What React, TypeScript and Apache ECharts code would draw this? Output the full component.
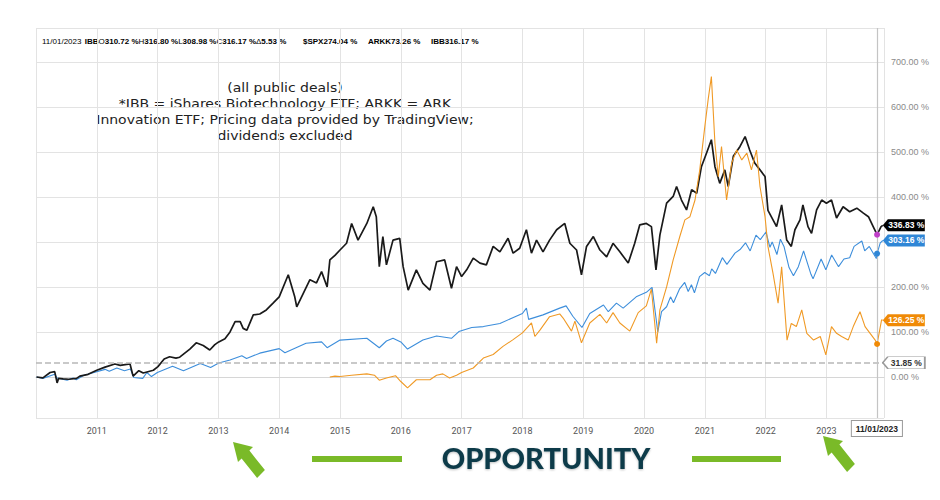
import React, { useEffect, useRef } from "react";
import * as echarts from "echarts";

// ---------- data (percent change since start) ----------
const ibbData: [string, number][] = [
  ["2010-01-04",0],["2010-02-12",-2],["2010-03-25",10],["2010-04-22",12],["2010-05-06",-13],["2010-05-15",-3],["2010-06-12",-4],["2010-07-15",-5],["2010-09-01",-3],["2010-09-21",2],["2010-11-10",6],
  ["2011-01-01",15],["2011-02-20",22],["2011-04-18",29],["2011-05-20",26],["2011-07-18",29],["2011-08-06",2],["2011-09-10",14],["2011-10-06",9],["2011-12-06",15],
  ["2012-01-03",23],["2012-02-10",40],["2012-03-12",45],["2012-04-20",42],["2012-05-12",44],["2012-07-12",62],["2012-08-20",76],["2012-10-01",70],["2012-11-10",60],["2012-12-10",72],
  ["2013-01-03",78],["2013-02-10",85],["2013-03-10",100],["2013-04-10",123],["2013-05-10",123],["2013-05-28",108],["2013-06-20",104],["2013-07-28",138],["2013-09-06",140],["2013-10-15",149],["2013-11-25",164],
  ["2014-01-01",178],["2014-02-25",227],["2014-04-03",178],["2014-04-15",156],["2014-05-24",186],["2014-07-03",216],["2014-08-12",209],["2014-09-12",234],["2014-10-15",200],["2014-11-01",260],["2014-12-01",270],
  ["2015-01-01",282],["2015-02-10",297],["2015-03-10",341],["2015-04-18",304],["2015-06-10",341],["2015-07-18",378],["2015-08-06",356],["2015-08-24",245],["2015-09-15",312],["2015-10-06",249],["2015-11-15",304],["2015-12-25",308],
  ["2016-01-15",245],["2016-02-15",193],["2016-04-03",238],["2016-05-12",208],["2016-06-24",193],["2016-08-03",256],["2016-09-21",260],["2016-11-01",197],["2016-12-01",245],
  ["2017-01-01",223],["2017-02-01",238],["2017-03-10",264],["2017-04-20",253],["2017-05-28",249],["2017-07-08",290],["2017-08-18",278],["2017-10-06",308],["2017-11-06",275],["2017-12-15",286],
  ["2018-01-25",327],["2018-02-25",275],["2018-03-25",304],["2018-05-03",278],["2018-06-12",304],["2018-07-24",327],["2018-09-12",341],["2018-10-12",297],["2018-11-22",282],["2018-12-21",227],
  ["2019-01-21",290],["2019-03-01",312],["2019-04-10",282],["2019-05-20",267],["2019-06-28",297],["2019-08-08",278],["2019-09-28",253],["2019-11-06",297],["2019-12-06",338],
  ["2020-01-15",341],["2020-02-15",334],["2020-03-12",238],["2020-04-05",315],["2020-05-15",386],["2020-06-24",401],["2020-07-14",423],["2020-08-13",393],["2020-09-13",371],["2020-10-13",416],["2020-11-13",408],["2020-12-11",467],
  ["2021-01-11",497],["2021-02-10",527],["2021-03-01",467],["2021-03-30",430],["2021-04-30",460],["2021-05-20",423],["2021-06-20",490],["2021-07-30",512],["2021-08-30",534],["2021-09-27",504],["2021-10-27",475],["2021-11-28",460],["2021-12-28",445],
  ["2022-01-15",370],["2022-02-15",349],["2022-03-06",334],["2022-04-06",382],["2022-05-06",304],["2022-06-03",290],["2022-06-25",327],["2022-07-25",349],["2022-08-12",382],["2022-09-12",334],["2022-10-03",319],["2022-11-03",371],["2022-12-03",393],
  ["2023-01-01",386],["2023-02-01",393],["2023-03-01",353],["2023-04-10",378],["2023-05-19",367],["2023-07-01",375],["2023-08-10",364],["2023-09-10",356],["2023-10-08",334],["2023-11-01",316.17],["2023-11-25",334],["2023-12-05",336.83],
];

const spxData: [string, number][] = [
  ["2010-01-04",0],["2010-02-12",-3],["2010-04-22",6],["2010-05-06",-2],["2010-07-05",-7],["2010-08-10",-2],["2010-08-30",-6],["2010-10-15",4],["2010-12-15",10],
  ["2011-02-20",17],["2011-03-15",13],["2011-04-30",20],["2011-06-15",14],["2011-07-20",18],["2011-08-10",-1],["2011-10-03",-3],["2011-10-28",10],["2011-11-25",1],["2011-12-30",10],
  ["2012-03-30",24],["2012-06-04",14],["2012-09-14",30],["2012-11-15",21],["2013-01-03",31],["2013-03-10",38],["2013-05-20",47],["2013-06-18",41],["2013-09-06",53],
  ["2014-01-01",63],["2014-02-05",54],["2014-06-10",75],["2014-09-12",78],["2014-10-15",65],["2015-01-01",82],["2015-06-10",86],["2015-08-24",65],["2015-10-06",80],["2015-11-15",86],
  ["2016-01-01",78],["2016-02-11",62],["2016-05-12",82],["2016-08-03",91],["2016-11-01",86],["2016-12-15",101],["2017-03-01",110],["2017-05-10",112],["2017-08-18",119],
  ["2018-01-01",141],["2018-01-25",153],["2018-02-08",128],["2018-05-03",138],["2018-08-12",153],["2018-09-20",158],["2018-10-30",135],["2018-12-24",110],
  ["2019-02-10",141],["2019-05-01",160],["2019-05-30",145],["2019-07-18",164],["2019-08-28",153],["2019-11-15",178],
  ["2020-01-15",188],["2020-02-19",199],["2020-03-23",100],["2020-04-15",145],["2020-05-15",156],["2020-06-08",178],["2020-06-26",165],["2020-07-31",195],["2020-09-02",210],["2020-09-23",190],["2020-10-12",205],["2020-10-30",187],["2020-11-30",223],["2020-12-31",232],
  ["2021-01-29",225],["2021-02-12",240],["2021-03-04",230],["2021-04-15",265],["2021-05-12",250],["2021-06-30",275],["2021-07-30",283],["2021-09-02",298],["2021-09-30",280],["2021-11-04",315],["2021-11-30",305],
  ["2022-01-03",322],["2022-01-27",288],["2022-02-10",300],["2022-03-08",272],["2022-03-29",306],["2022-04-20",290],["2022-05-20",243],["2022-06-16",225],["2022-07-15",245],["2022-08-16",280],["2022-09-30",228],["2022-10-12",218],["2022-11-30",262],["2022-12-28",238],
  ["2023-02-02",271],["2023-03-13",245],["2023-04-15",262],["2023-05-19",265],["2023-06-15",290],["2023-07-31",302],["2023-08-18",280],["2023-09-15",290],["2023-10-27",263],["2023-11-01",274.04],["2023-11-20",298],["2023-12-05",303.16],
];

const arkkData: [string, number][] = [
  ["2014-10-31",0],["2014-12-01",2],["2015-01-01",1],["2015-03-10",4],["2015-06-10",7],["2015-07-25",4],["2015-08-24",-7],["2015-10-06",-2],["2015-11-30",3],
  ["2016-01-01",-10],["2016-02-11",-24],["2016-04-03",-6],["2016-06-24",-6],["2016-08-03",4],["2016-09-10",7],["2016-10-20",-2],["2016-12-01",4],
  ["2017-01-01",10],["2017-03-10",20],["2017-05-10",42],["2017-07-08",50],["2017-09-06",68],["2017-11-06",83],
  ["2018-01-01",98],["2018-02-25",120],["2018-03-15",90],["2018-04-15",104],["2018-06-12",134],["2018-08-12",140],["2018-09-02",131],["2018-10-22",102],["2018-11-12",124],["2018-12-21",76],
  ["2019-02-10",120],["2019-04-10",139],["2019-05-20",120],["2019-06-28",143],["2019-08-08",120],["2019-10-07",102],["2019-11-27",143],
  ["2020-01-15",158],["2020-02-15",195],["2020-03-16",75],["2020-04-05",149],["2020-05-15",200],["2020-06-24",260],["2020-08-03",312],["2020-09-03",349],["2020-10-03",356],["2020-11-03",393],["2020-12-01",460],
  ["2021-01-01",556],["2021-01-21",616],["2021-02-10",667],["2021-03-01",519],["2021-03-21",445],["2021-04-10",512],["2021-05-10",393],["2021-06-10",475],["2021-07-10",504],["2021-08-10",482],["2021-09-10",497],["2021-10-07",460],["2021-11-07",504],["2021-11-28",423],["2021-12-28",356],
  ["2022-01-15",290],["2022-02-15",230],["2022-03-15",164],["2022-04-06",245],["2022-05-08",82],["2022-06-03",119],["2022-07-03",112],["2022-08-05",149],["2022-09-05",97],["2022-10-15",82],["2022-11-25",90],["2022-12-28",49],
  ["2023-02-01",112],["2023-03-01",97],["2023-04-01",90],["2023-05-10",82],["2023-06-10",112],["2023-07-20",145],["2023-08-20",112],["2023-09-20",97],["2023-10-20",82],["2023-11-01",73.26],["2023-11-28",127],["2023-12-05",126.25],
];

const crosshairDate = "2023-11-01";
const crosshairLabel = "11/01/2023";
const crosshairValues = { ibb: 316.17, spx: 274.04, arkk: 73.26 };
const referenceLevel = 31.85;
const endTags = { ibb: "336.83 %", spx: "303.16 %", arkk: "126.25 %", ref: "31.85 %" };
const hiddenAxisLabels = [300]; // covered by the $SPX tag in the reference

const noteLines = [
  "(all public deals)",
  "*IBB = iShares Biotechnology ETF; ARKK = ARK",
  "Innovation ETF; Pricing data provided by TradingView;",
  "dividends excluded",
];

// ---------- helpers ----------
const toYear = (s: string) => {
  const [y, m, d] = s.split("-").map(Number);
  return y + (m - 1 + ((d || 15) - 1) / 30.5) / 12;
};
const toPoints = (arr: [string, number][]) => arr.map(([d, v]) => [toYear(d), v]);

const TAG_PATH = "path://M0,5.5 L5,0 L42,0 L42,11 L5,11 Z";
const GREEN = "#7aba28";

function tag(point: [string, number], text: string, fill: string, textColor = "#fff", border?: string) {
  return {
    coord: [toYear(point[0]), point[1]],
    symbol: TAG_PATH,
    symbolSize: [42, 12],
    symbolOffset: [21, 0],
    itemStyle: border ? { color: fill, borderColor: border, borderWidth: 1 } : { color: fill },
    label: {
      show: true,
      formatter: text,
      color: textColor,
      fontSize: 8.5,
      fontWeight: "bold",
      fontFamily: "Liberation Sans, Arial, sans-serif",
      offset: [2.5, 0],
    },
  };
}
function dot(value: number, color: string) {
  return {
    coord: [toYear(crosshairDate), value],
    symbol: "circle",
    symbolSize: 6,
    itemStyle: { color },
    label: { show: false },
  };
}

function arrow(x: number, y: number) {
  return {
    type: "group",
    x,
    y,
    silent: true,
    children: [
      {
        type: "polygon",
        shape: {
          points: [
            [0, 0], [20, 5], [16.4, 8.6], [31.9, 28.1], [24.1, 35.9], [8.6, 16.4], [5, 20],
          ],
        },
        style: { fill: GREEN },
      },
    ],
  };
}

export default function App() {
  const ref = useRef<HTMLDivElement>(null);

  useEffect(() => {
    document.body.style.margin = "0";
    if (!ref.current) return;
    const chart = echarts.init(ref.current, undefined, { renderer: "svg" });

    const lastIbb = ibbData[ibbData.length - 1];
    const lastSpx = spxData[spxData.length - 1];
    const lastArkk = arkkData[arkkData.length - 1];
    const xMin = 2010;
    const xMax = 2023.947;

    const headerFont = "Liberation Sans, Arial, sans-serif";
    const rich = {
      d: { fontSize: 8, color: "#a0a0a0", fontFamily: headerFont },
      k: { fontSize: 8, color: "#222", fontWeight: "bold", fontFamily: headerFont },
      g: { fontSize: 8, color: "#a0a0a0", fontFamily: headerFont },
      v: { fontSize: 8, color: "#222", fontWeight: "bold", fontFamily: headerFont },
      b: { fontSize: 8, color: "#2f86d6", fontWeight: "bold", fontFamily: headerFont },
      o: { fontSize: 8, color: "#f0a020", fontWeight: "bold", fontFamily: headerFont },
      m: { fontSize: 8, color: "#c040c8", fontWeight: "bold", fontFamily: headerFont },
    };

    const noteGraphics = noteLines.map((line, i) => ({
      type: "text",
      x: 285,
      y: 88 + i * 16,
      scaleX: 1.12,
      silent: true,
      style: {
        text: line,
        align: "center",
        verticalAlign: "middle",
        fontFamily: "DejaVu Sans, sans-serif",
        fontSize: 12.5,
        fill: "#222",
      },
    }));

    chart.setOption({
      animation: false,
      backgroundColor: "#fff",
      grid: { left: 36, right: 56, top: 28, bottom: 82, containLabel: false },
      xAxis: {
        type: "value",
        min: xMin,
        max: xMax,
        splitNumber: 14,
        minInterval: 1,
        maxInterval: 1,
        axisLine: { show: true, lineStyle: { color: "#d6d6d6" } },
        axisTick: { show: false },
        splitLine: { show: true, lineStyle: { color: "#e3e3e3", width: 1 } },
        axisLabel: {
          showMinLabel: false,
          showMaxLabel: false,
          margin: 8,
          fontSize: 9,
          color: "#555",
          fontFamily: "Roboto, sans-serif",
          formatter: (v: number) => String(Math.round(v)),
        },
      },
      yAxis: {
        type: "value",
        position: "right",
        min: -91,
        max: 775,
        splitNumber: 9,
        minInterval: 100,
        maxInterval: 100,
        axisLine: { show: false },
        axisTick: { show: false },
        splitLine: { show: true, lineStyle: { color: "#e3e3e3", width: 1 } },
        axisLabel: {
          showMinLabel: false,
          showMaxLabel: false,
          margin: 7,
          fontSize: 9,
          color: "#8a8a8a",
          fontFamily: "Liberation Sans, Arial, sans-serif",
          formatter: (v: number) =>
            v < 0 || hiddenAxisLabels.includes(Math.round(v)) ? "" : v.toFixed(2) + " %",
        },
      },
      series: [
        {
          name: "IBB",
          type: "line",
          data: toPoints(ibbData),
          showSymbol: false,
          symbol: "none",
          lineStyle: { color: "#1a1a1a", width: 1.7 },
          z: 3,
          markLine: {
            silent: true,
            symbol: "none",
            animation: false,
            data: [
              {
                yAxis: referenceLevel,
                lineStyle: { color: "#b8b8b8", width: 1.5, type: "dashed" },
                label: { show: false },
              },
              {
                xAxis: toYear(crosshairDate),
                lineStyle: { color: "#c4c4c4", width: 1.2, type: "solid" },
                label: {
                  show: true,
                  position: "start",
                  distance: 3,
                  formatter: crosshairLabel,
                  backgroundColor: "#fff",
                  borderColor: "#9a9a9a",
                  borderWidth: 1,
                  padding: [3, 4],
                  color: "#222",
                  fontSize: 8.5,
                  fontWeight: "bold",
                  fontFamily: "Liberation Sans, Arial, sans-serif",
                },
              },
            ],
          },
          markPoint: {
            silent: true,
            animation: false,
            data: [
              tag(lastIbb, endTags.ibb, "#000"),
              tag([lastIbb[0], referenceLevel], endTags.ref, "#fff", "#333", "#9a9a9a"),
              dot(crosshairValues.ibb, "#c040c8"),
            ],
          },
        },
        {
          name: "$SPX",
          type: "line",
          data: toPoints(spxData),
          showSymbol: false,
          symbol: "none",
          lineStyle: { color: "#3d8edb", width: 1.1 },
          z: 2,
          markPoint: {
            silent: true,
            animation: false,
            data: [tag(lastSpx, endTags.spx, "#2f86d6"), dot(crosshairValues.spx, "#2f86d6")],
          },
        },
        {
          name: "ARKK",
          type: "line",
          data: toPoints(arkkData),
          showSymbol: false,
          symbol: "none",
          lineStyle: { color: "#f09a26", width: 1.1 },
          z: 4,
          markPoint: {
            silent: true,
            animation: false,
            data: [tag(lastArkk, endTags.arkk, "#f08a06"), dot(crosshairValues.arkk, "#f08a06")],
          },
        },
      ],
      graphic: [
        {
          type: "text",
          x: 42,
          y: 41,
          silent: true,
          style: {
            text: "{d|11/01/2023} {k|IBB}{g|O}{v|310.72 %}{g|H}{v|316.80 %}{g|L}{v|308.98 %}{g|C}{v|316.17 %}{g|Δ}{v|5.53 %}",
            rich,
            verticalAlign: "middle",
          },
        },
        { type: "text", x: 303, y: 41, silent: true, style: { text: "{k|$SPX}{b|274.04 %}", rich, verticalAlign: "middle" } },
        { type: "text", x: 368, y: 41, silent: true, style: { text: "{k|ARKK}{o|73.26 %}", rich, verticalAlign: "middle" } },
        { type: "text", x: 431, y: 41, silent: true, style: { text: "{k|IBB}{m|316.17 %}", rich, verticalAlign: "middle" } },
        ...noteGraphics,
        {
          type: "text",
          x: 546,
          y: 457,
          silent: true,
          style: {
            text: "OPPORTUNITY",
            align: "center",
            verticalAlign: "middle",
            fontFamily: "Lato, sans-serif",
            fontWeight: 900,
            fontSize: 29,
            fill: "#0b3a49",
            textShadowColor: "rgba(0,0,0,0.25)",
            textShadowBlur: 2,
            textShadowOffsetY: 1,
          },
        },
        { type: "rect", silent: true, shape: { x: 312, y: 456, width: 90, height: 6 }, style: { fill: GREEN } },
        { type: "rect", silent: true, shape: { x: 692, y: 456, width: 89, height: 6 }, style: { fill: GREEN } },
        arrow(233, 442),
        arrow(823, 436),
      ],
    });

    return () => chart.dispose();
  }, []);

  return <div ref={ref} style={{ width: 940, height: 500 }} />;
}
